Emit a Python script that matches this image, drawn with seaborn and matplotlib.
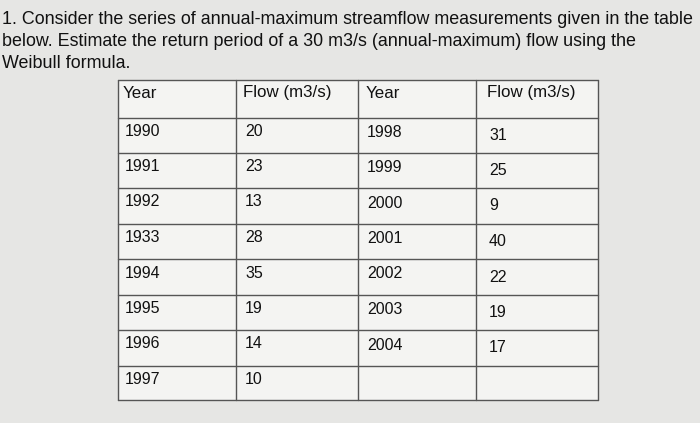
import matplotlib.pyplot as plt
import seaborn as sns

sns.set_style("white")
plt.rcParams['font.family'] = ['Liberation Sans', 'DejaVu Sans']

title_lines = [
    "1. Consider the series of annual-maximum streamflow measurements given in the table",
    "below. Estimate the return period of a 30 m3/s (annual-maximum) flow using the",
    "Weibull formula.",
]
headers = ["Year", "Flow (m3/s)", "Year", "Flow (m3/s)"]
years_left = ["1990", "1991", "1992", "1933", "1994", "1995", "1996", "1997"]
flows_left = ["20", "23", "13", "28", "35", "19", "14", "10"]
years_right = ["1998", "1999", "2000", "2001", "2002", "2003", "2004", ""]
flows_right = ["31", "25", "9", "40", "22", "19", "17", ""]

fig = plt.figure(figsize=(7, 4.23), dpi=100)
fig.patch.set_facecolor("#e6e6e4")
ax = fig.add_axes([0, 0, 1, 1])
ax.set_xlim(0, 700)
ax.set_ylim(423, 0)
ax.axis("off")

for i, line in enumerate(title_lines):
    ax.text(2, 19 + i * 22, line, fontsize=12.9, va="center", ha="left", color="#111111")

col_x = [118, 236, 358, 476, 598]
row_y = [80, 118, 153, 188, 224, 259, 295, 330, 366, 400]

ax.fill_between([col_x[0], col_x[-1]], row_y[0], row_y[-1], color="#f4f4f2", zorder=0)
for x in col_x:
    ax.plot([x, x], [row_y[0], row_y[-1]], color="#555555", lw=1)
for y in row_y:
    ax.plot([col_x[0], col_x[-1]], [y, y], color="#555555", lw=1)

text_x = [123, 243, 366, 531]
ha = ["left", "left", "left", "center"]
for j, h in enumerate(headers):
    ax.text(text_x[j], (row_y[0] + row_y[1]) / 2 - 6, h, fontsize=12.2,
            ha=ha[j], va="center", color="#111111")

val_x = [125, 245, 367, 489]
val_dy = [-4, -4, -3, 0]
columns = [years_left, flows_left, years_right, flows_right]
for j, col in enumerate(columns):
    for i, v in enumerate(col):
        ax.text(val_x[j], (row_y[i + 1] + row_y[i + 2]) / 2 + val_dy[j], v, fontsize=11.5,
                ha="left", va="center", color="#111111")

fig.savefig("out.png", dpi=100, facecolor=fig.get_facecolor())
